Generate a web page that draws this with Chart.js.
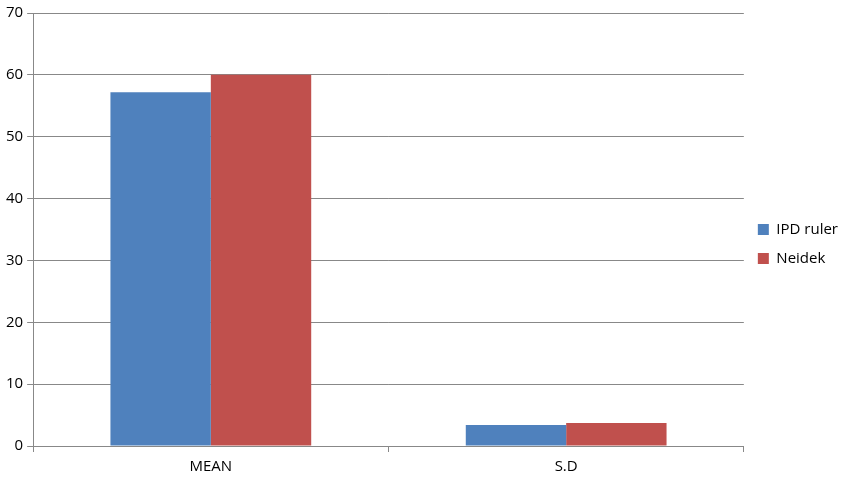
<!DOCTYPE html>
<html><head><script src="https://cdn.jsdelivr.net/npm/chart.js"></script>
<style>body{margin:0;background:#fff}#w{width:854px;height:486px}</style></head>
<body><div id="w"><canvas id="c"></canvas></div>
<script>
const categories = ["MEAN", "S.D"];
const ipdRuler = [57.2, 3.4];
const neidek = [60.0, 3.7];
const yTicks = [0, 10, 20, 30, 40, 50, 60, 70];
Chart.defaults.font.family = "'Open Sans', 'Liberation Sans', sans-serif";
Chart.defaults.font.size = 15;
Chart.defaults.color = "#000";
new Chart(document.getElementById('c'), {
  type: 'bar',
  data: { labels: categories, datasets: [
    { label: 'IPD ruler', data: ipdRuler, backgroundColor: '#4F81BD' },
    { label: 'Neidek', data: neidek, backgroundColor: '#C0504D' }
  ]},
  options: {
    responsive: true, maintainAspectRatio: false, animation: false,
    layout: { padding: { top: 6, right: 6, left: 2, bottom: 4 } },
    datasets: { bar: { categoryPercentage: 0.565, barPercentage: 1 } },
    plugins: { legend: { position: 'right', labels: { boxWidth: 11, boxHeight: 11, padding: 14 } }, tooltip: { enabled: false } },
    scales: {
      x: { grid: { offset: true, drawOnChartArea: false, color: '#888', tickLength: 6 }, border: { color: '#888' }, ticks: { padding: 6 } },
      y: { min: 0, max: 70, afterBuildTicks: a => { a.ticks = yTicks.map(v => ({ value: v })); },
           grid: { color: '#888', tickLength: 6 }, border: { color: '#888' }, ticks: { padding: 4 } }
    }
  }
});
</script></body></html>
